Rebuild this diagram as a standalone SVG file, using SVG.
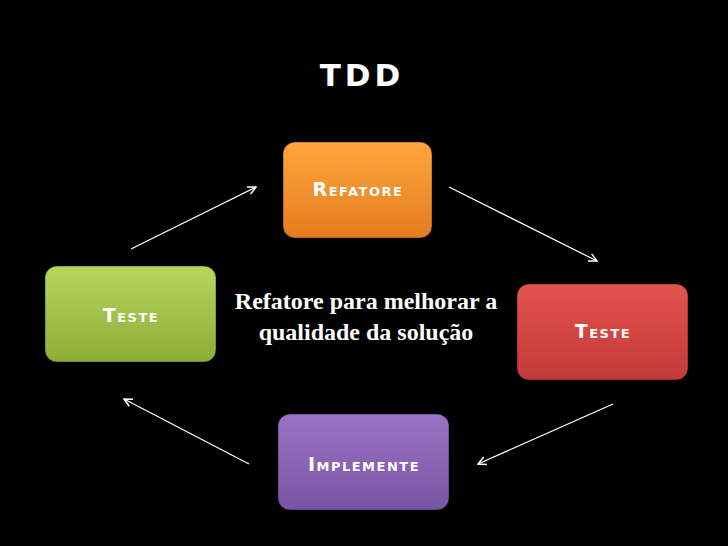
<svg xmlns="http://www.w3.org/2000/svg" width="728" height="546" viewBox="0 0 728 546">
<defs>
<linearGradient id="gO" x1="0" y1="0" x2="0" y2="1"><stop offset="0" stop-color="#ffa63e"/><stop offset="1" stop-color="#e47c1f"/></linearGradient>
<linearGradient id="gG" x1="0" y1="0" x2="0" y2="1"><stop offset="0" stop-color="#b5d75c"/><stop offset="1" stop-color="#8cae39"/></linearGradient>
<linearGradient id="gR" x1="0" y1="0" x2="0" y2="1"><stop offset="0" stop-color="#e4534f"/><stop offset="1" stop-color="#c23a36"/></linearGradient>
<linearGradient id="gP" x1="0" y1="0" x2="0" y2="1"><stop offset="0" stop-color="#9b73c6"/><stop offset="1" stop-color="#7a54a4"/></linearGradient>
<marker id="arr" viewBox="0 0 10 10" refX="9" refY="5" markerWidth="10" markerHeight="10" markerUnits="userSpaceOnUse" orient="auto">
<path d="M1,1 L9,5 L1,9" fill="none" stroke="#fff" stroke-width="1.5"/>
</marker>
</defs>
<style>
.box{stroke:#000;stroke-opacity:0.4;stroke-width:1}
.lbl{font-family:"DejaVu Sans",sans-serif;font-weight:bold;font-variant:small-caps;font-size:19px;fill:#fff;text-anchor:middle;letter-spacing:1.5px}
.con{stroke:#fff;stroke-width:1.2;fill:none;marker-end:url(#arr)}
.mid{font-family:"Liberation Serif",serif;font-weight:bold;font-size:24px;fill:#fff;text-anchor:middle}
</style>
<rect width="728" height="546" fill="#000"/>
<text x="362" y="86" font-family="DejaVu Sans,sans-serif" font-weight="bold" font-size="31" fill="#fff" text-anchor="middle" letter-spacing="4">TDD</text>
<g id="connectors">
<line class="con" x1="131" y1="249" x2="256" y2="187"/>
<line class="con" x1="449" y1="187" x2="597" y2="261"/>
<line class="con" x1="613" y1="404" x2="478" y2="464"/>
<line class="con" x1="249" y1="464" x2="124" y2="399"/>
</g>
<g id="refatore">
<rect class="box" x="283" y="142" width="149" height="96" rx="12" fill="url(#gO)"/>
<text class="lbl" x="358" y="196">Refatore</text>
</g>
<g id="teste-left">
<rect class="box" x="45" y="266" width="171" height="96" rx="12" fill="url(#gG)"/>
<text class="lbl" x="131" y="322">Teste</text>
</g>
<g id="teste-right">
<rect class="box" x="517" y="284" width="171" height="96" rx="12" fill="url(#gR)"/>
<text class="lbl" x="603" y="338">Teste</text>
</g>
<g id="implemente">
<rect class="box" x="278" y="414" width="171" height="96" rx="12" fill="url(#gP)"/>
<text class="lbl" x="364" y="471">Implemente</text>
</g>
<g id="note">
<text class="mid" x="366" y="309">Refatore para melhorar a</text>
<text class="mid" x="366" y="340">qualidade da solução</text>
</g>
</svg>
